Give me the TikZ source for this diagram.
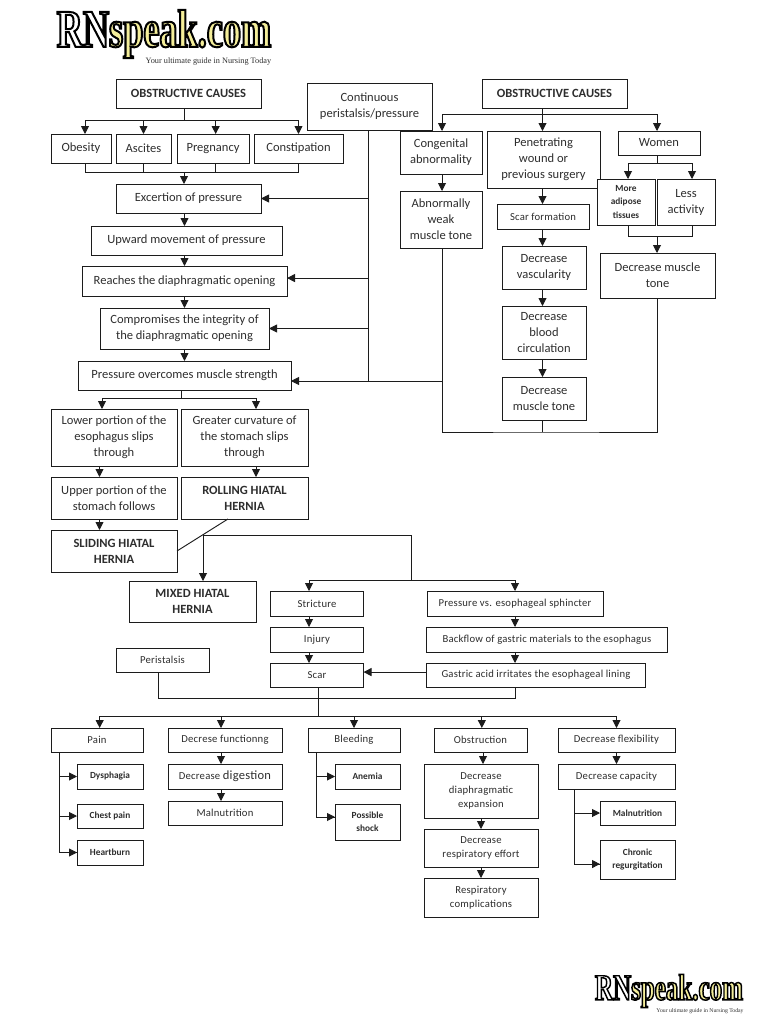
\documentclass[tikz,border=0pt]{standalone}
\usepackage{fontspec}
\setmainfont{Carlito}
\newfontfamily\logofont[FakeStretch=0.68]{Liberation Serif Bold}
\newfontfamily\tagfont{Liberation Serif}
\usetikzlibrary{arrows.meta}
\definecolor{inkline}{HTML}{1C1C1C}
\definecolor{inktext}{HTML}{2E2E2E}
\definecolor{logoyellow}{HTML}{F4EE9A}
\newcommand{\rnlogo}[2]{{\fontsize{#1}{#1}\logofont
    \textcolor{white}{\special{pdf:code 2 Tr #2 w 0 G}RN}\textcolor{logoyellow}{\special{pdf:code 2 Tr #2 w 0 G}speak.com}\special{pdf:code 0 Tr}}}
\begin{document}
\begin{tikzpicture}[
        x=0.75pt, y=-0.75pt,
        box/.style 2 args={rectangle, draw=inkline, fill=white, line width=0.7pt, inner sep=0pt, outer sep=0pt,
            minimum width=#1*0.75pt, minimum height=#2*0.75pt, align=center, text=inktext,
            font=\fontsize{9.4}{12}\selectfont},
        note/.style={font=\fontsize{8}{10.5}\selectfont\addfontfeature{LetterSpace=2}},
        notebold/.style={font=\fontsize{7}{10}\selectfont\bfseries},
        arrow/.style={-{Triangle[length=6pt,width=6pt]}, draw=inkline, line width=0.7pt},
        line/.style={draw=inkline, line width=0.7pt}
    ]
        \useasboundingbox (0,0) rectangle (768,1024);

        % Logos
        \node[inner sep=0pt] (logotop) at (164,34) {\rnlogo{40}{1.5}};
        \node[inner sep=0pt, text=inktext, font=\fontsize{6.2}{6.2}\tagfont] (tagtop) at (208.5,62) {Your ultimate guide in Nursing Today};
        \node[inner sep=0pt] (logobot) at (669,991) {\rnlogo{27.6}{1.1}};
        \node[inner sep=0pt, text=inktext, font=\fontsize{4.3}{4.3}\tagfont] (tagbot) at (700,1011) {Your ultimate guide in Nursing Today};

        % Boxes, left column
        \node[box={145}{29}] (obsl) at (188.5,93.5) {\textbf{OBSTRUCTIVE CAUSES}};
        \node[box={125}{47}] (cont) at (369.5,106.5) {Continuous\\peristalsis/pressure};
        \node[box={60}{29}] (obesity) at (81,148.5) {Obesity};
        \node[box={55}{29}] (ascites) at (143.5,148.5) {Ascites};
        \node[box={72}{29}] (pregnancy) at (213,148.5) {Pregnancy};
        \node[box={89}{29}] (constip) at (298.5,148.5) {Constipation};
        \node[box={145}{29}] (excertion) at (188.5,198.5) {Excertion of pressure};
        \node[box={191}{29}] (upward) at (186.5,240.5) {Upward movement of pressure};
        \node[box={205}{30}] (reaches) at (184.5,281) {Reaches the diaphragmatic opening};
        \node[box={169}{41}] (comprom) at (184.5,328.5) {Compromises the integrity of\\the diaphragmatic opening};
        \node[box={213}{29}] (pressure) at (184.5,375.5) {Pressure overcomes muscle strength};
        \node[box={126}{57}] (lower) at (114,437.5) {Lower portion of the\\esophagus slips\\through};
        \node[box={127}{57}] (greater) at (244.5,437.5) {Greater curvature of\\the stomach slips\\through};
        \node[box={126}{42}] (upper) at (114,498) {Upper portion of the\\stomach follows};
        \node[box={127}{42}] (rolling) at (244.5,498) {\textbf{ROLLING HIATAL}\\\textbf{HERNIA}};
        \node[box={126}{42}] (sliding) at (114,551) {\textbf{SLIDING HIATAL}\\\textbf{HERNIA}};
        \node[box={127}{41}] (mixed) at (192.5,601.5) {\textbf{MIXED HIATAL}\\\textbf{HERNIA}};

        % Boxes, right column
        \node[box={145}{29}] (obsr) at (554.5,93.5) {\textbf{OBSTRUCTIVE CAUSES}};
        \node[box={82}{43}] (congen) at (441,152.5) {Congenital\\abnormality};
        \node[box={113}{57}] (penetr) at (543.5,159.5) {Penetrating\\wound or\\previous surgery};
        \node[box={82}{24}] (women) at (659,143) {Women};
        \node[box={58}{46}, notebold] (adipose) at (626,202) {More\\adipose\\tissues};
        \node[box={58}{46}] (activity) at (686,202) {Less\\activity};
        \node[box={82}{57}] (abnorm) at (441,219.5) {Abnormally\\weak\\muscle tone};
        \node[box={92}{25}, note] (scarform) at (543,216.5) {Scar formation};
        \node[box={84}{43}] (vascul) at (544,267.5) {Decrease\\vascularity};
        \node[box={84}{53}] (blood) at (544,332.5) {Decrease\\blood\\circulation};
        \node[box={84}{43}] (mtone) at (544,398.5) {Decrease\\muscle tone};
        \node[box={115}{45}] (dmt) at (657.5,275.5) {Decrease muscle\\tone};

        % Boxes, middle row
        \node[box={93}{25}, note] (stricture) at (317,603.5) {Stricture};
        \node[box={93}{25}, note] (injury) at (317,639.5) {Injury};
        \node[box={93}{24}, note] (scar) at (317,675) {Scar};
        \node[box={93}{24}, note] (peri) at (162.5,660) {Peristalsis};
        \node[box={176}{25}, note] (pvs) at (515,603.5) {Pressure vs. esophageal sphincter};
        \node[box={241}{25}, note] (backflow) at (547,639.5) {Backflow of gastric materials to the esophagus};
        \node[box={219}{24}, note] (gastric) at (536,675) {Gastric acid irritates the esophageal lining};

        % Boxes, bottom row
        \node[box={92}{24}, note] (pain) at (97,740) {Pain};
        \node[box={66}{25}, notebold] (dysph) at (110,776.5) {Dysphagia};
        \node[box={66}{24}, notebold] (chest) at (110,816) {Chest pain};
        \node[box={66}{25}, notebold] (heartb) at (110,852.5) {Heartburn};
        \node[box={114}{24}, note] (decfunc) at (225,740) {Decrese functionng};
        \node[box={114}{25}, note] (decdig) at (225,776.5) {Decrease {\fontsize{9.4}{12}\selectfont digestion}};
        \node[box={114}{24}, note] (maln) at (225,813) {Malnutrition};
        \node[box={92}{24}, note] (bleed) at (354,740) {Bleeding};
        \node[box={65}{25}, notebold] (anemia) at (367.5,776.5) {Anemia};
        \node[box={65}{36}, notebold] (shock) at (367.5,822) {Possible\\shock};
        \node[box={93}{24}, note] (obstr) at (480.5,740) {Obstruction};
        \node[box={114}{54}, note] (dexp) at (481,791) {Decrease\\diaphragmatic\\expansion};
        \node[box={114}{38}, note] (deff) at (481,848) {Decrease\\respiratory effort};
        \node[box={114}{39}, note] (resp) at (481,897.5) {Respiratory\\complications};
        \node[box={117}{24}, note] (flex) at (616.5,740) {Decrease flexibility};
        \node[box={117}{25}, note] (capac) at (616.5,776.5) {Decrease capacity};
        \node[box={75}{24}, notebold] (maln2) at (637.5,813) {Malnutrition};
        \node[box={75}{39}, notebold] (chronic) at (637.5,859.5) {Chronic\\regurgitation};

        % Junctions
        \coordinate (busa) at (184,120);
        \coordinate (busb) at (184,172);
        \coordinate (midl) at (184.5,300);
        \coordinate (contb) at (368.5,381);
        \coordinate (loopa) at (442,381);
        \coordinate (loopb) at (542.5,432);
        \coordinate (busr) at (542.5,114);
        \coordinate (busw) at (657,163);
        \coordinate (buswb) at (657,236);
        \coordinate (busp) at (181,398);
        \coordinate (hernia) at (203,535);
        \coordinate (fork) at (411,580);
        \coordinate (joinp) at (515,698);
        \coordinate (busd) at (318,716);
        \coordinate (leftx) at (99.5,500);
        \coordinate (lowerx) at (102,400);
        \coordinate (rightx) at (256,500);
        \coordinate (painx) at (59.5,800);
        \coordinate (bleedx) at (316.5,800);
        \coordinate (capx) at (574,800);
        \coordinate (obstrx) at (483,750);

        % Arrows, left column
        \draw[line] (obsl.south -| busa) -- (busa);
        \draw[arrow] (busa) -| ([xshift=3pt]obesity.north);
        \draw[arrow] (busa) -| (ascites.north);
        \draw[arrow] (busa) -| ([xshift=2pt]pregnancy.north);
        \draw[arrow] (busa) -| (constip.north);
        \draw[line] ([xshift=3pt]obesity.south) |- (busb);
        \draw[line] (ascites.south) |- (busb);
        \draw[line] ([xshift=2pt]pregnancy.south) |- (busb);
        \draw[line] (constip.south) |- (busb);
        \draw[arrow] (busb) -- (excertion.north -| busb);
        \draw[arrow] (excertion.south -| midl) -- (upward.north -| midl);
        \draw[arrow] (upward.south -| midl) -- (reaches.north -| midl);
        \draw[arrow] (reaches.south -| midl) -- (comprom.north -| midl);
        \draw[arrow] (comprom.south -| midl) -- (pressure.north -| midl);

        % Arrows from the pressure line
        \draw[line] (cont.south -| contb) -- (contb);
        \draw[arrow] (excertion.east -| contb) -- (excertion.east);
        \draw[arrow] ([yshift=2.2pt]reaches.east -| contb) -- ([yshift=2.2pt]reaches.east);
        \draw[arrow] (comprom.east -| contb) -- (comprom.east);
        \draw[arrow] (loopa) -- (pressure.east |- loopa);

        % Arrows, right column
        \draw[line] (obsr.south -| busr) -- (busr);
        \draw[arrow] (busr) -| (congen.north -| loopa);
        \draw[arrow] (busr) -- (penetr.north -| busr);
        \draw[arrow] (busr) -| (women.north -| busw);
        \draw[arrow] (congen.south -| loopa) -- (abnorm.north -| loopa);
        \draw[arrow] (penetr.south -| busr) -- (scarform.north -| busr);
        \draw[arrow] (scarform.south -| busr) -- (vascul.north -| busr);
        \draw[arrow] (vascul.south -| busr) -- (blood.north -| busr);
        \draw[arrow] (blood.south -| busr) -- (mtone.north -| busr);
        \draw[line] (women.south -| busw) -- (busw);
        \draw[arrow] (busw) -| ([xshift=1.5pt]adipose.north);
        \draw[arrow] (busw) -| ([xshift=4.5pt]activity.north);
        \draw[line] ([xshift=1.5pt]adipose.south) |- (buswb);
        \draw[line] ([xshift=4.5pt]activity.south) |- (buswb);
        \draw[arrow] (buswb) -- (dmt.north -| buswb);
        \draw[line] (abnorm.south -| loopa) |- (loopb) -| (dmt.south);
        \draw[line] (mtone.south -| loopb) -- (loopb);

        % Arrows to the hernias
        \draw[line] (pressure.south -| busp) -- (busp);
        \draw[arrow] (busp) -| (lower.north -| lowerx);
        \draw[arrow] (busp) -| (greater.north -| rightx);
        \draw[arrow] (lower.south -| leftx) -- (upper.north -| leftx);
        \draw[arrow] (upper.south -| leftx) -- (sliding.north -| leftx);
        \draw[arrow] (greater.south -| rightx) -- (rolling.north -| rightx);
        \draw[line] ([xshift=-12.4pt]rolling.south) -- (sliding.east);
        \draw[arrow] (hernia) -- (mixed.north -| hernia);
        \draw[line] (hernia) -| (fork);
        \draw[arrow] (fork) -| ([xshift=-6pt]stricture.north);
        \draw[arrow] (fork) -| (pvs.north);

        % Arrows, middle row
        \draw[arrow] ([xshift=-6pt]stricture.south) -- ([xshift=-6pt]injury.north);
        \draw[arrow] ([xshift=-6pt]injury.south) -- ([xshift=-6pt]scar.north);
        \draw[arrow] (pvs.south) -- (backflow.north -| pvs.south);
        \draw[arrow] (backflow.south -| pvs.south) -- (gastric.north -| pvs.south);
        \draw[arrow] ([yshift=2.2pt]gastric.west) -- ([yshift=2.2pt]scar.east);
        \draw[line] ([xshift=-3.4pt]peri.south) |- (joinp) -- (joinp |- gastric.south);
        \draw[line] (scar.south -| busd) -- (busd);

        % Arrows, bottom row
        \draw[arrow] (busd) -| ([xshift=2pt]pain.north);
        \draw[arrow] (busd) -| ([xshift=-3pt]decfunc.north);
        \draw[arrow] (busd) -| (bleed.north);
        \draw[arrow] (busd) -| ([xshift=1pt]obstr.north);
        \draw[arrow] (busd) -| (flex.north);
        \draw[line] (pain.south -| painx) |- (heartb.west);
        \draw[arrow] (dysph.west -| painx) -- (dysph.west);
        \draw[arrow] (chest.west -| painx) -- (chest.west);
        \draw[arrow] (heartb.west -| painx) -- (heartb.west);
        \draw[arrow] ([xshift=-3pt]decfunc.south) -- ([xshift=-3pt]decdig.north);
        \draw[arrow] ([xshift=-3pt]decdig.south) -- ([xshift=-3pt]maln.north);
        \draw[line] (bleed.south -| bleedx) |- ([yshift=3.75pt]shock.west);
        \draw[arrow] (anemia.west -| bleedx) -- (anemia.west);
        \draw[arrow] ([yshift=3.75pt]shock.west -| bleedx) -- ([yshift=3.75pt]shock.west);
        \draw[arrow] (obstr.south -| obstrx) -- (dexp.north -| obstrx);
        \draw[arrow] (dexp.south) -- (deff.north);
        \draw[arrow] (deff.south) -- (resp.north);
        \draw[arrow] (flex.south) -- (capac.north);
        \draw[line] (capac.south -| capx) |- ([yshift=-3.4pt]chronic.west);
        \draw[arrow] (maln2.west -| capx) -- (maln2.west);
        \draw[arrow] ([yshift=-3.4pt]chronic.west -| capx) -- ([yshift=-3.4pt]chronic.west);
    \end{tikzpicture}
\end{document}
